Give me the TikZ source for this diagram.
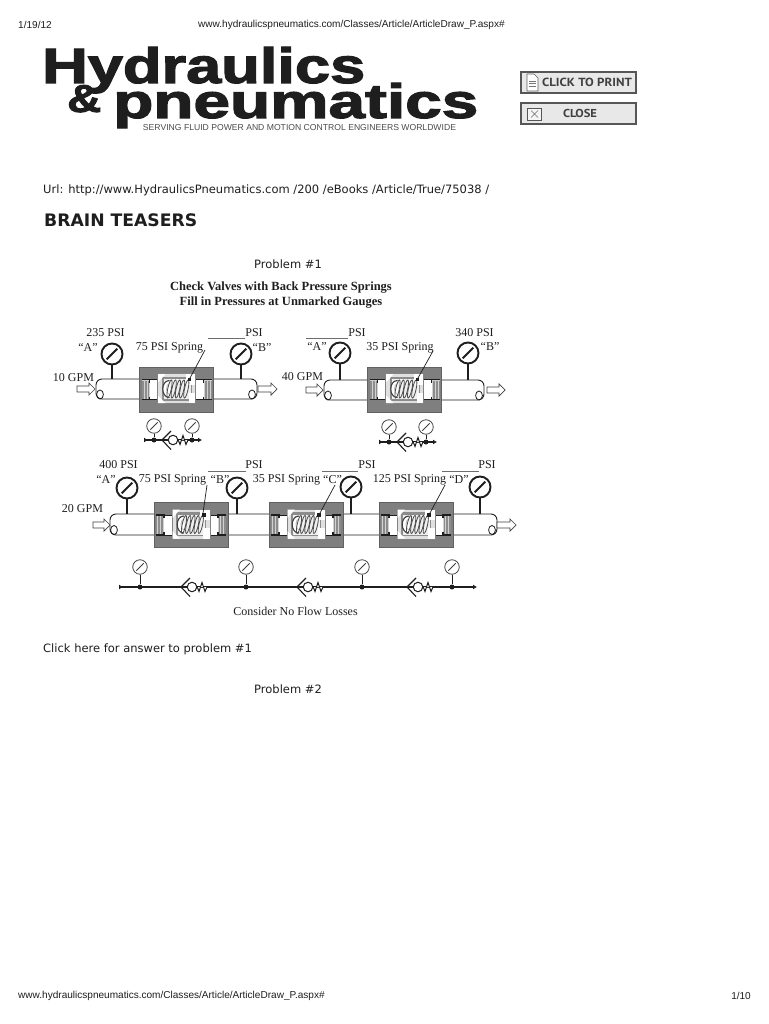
\documentclass[tikz,border=0pt]{standalone}
\usepackage{fontspec}
\usepackage{graphicx}
\setmainfont{Liberation Serif}
\newfontfamily\arialf{Liberation Sans}
\newfontfamily\verd{DejaVu Sans}
\newfontfamily\btnf{PT Sans}
\newfontfamily\logof[FakeBold=2.2]{Liberation Sans}
\usetikzlibrary{arrows.meta,calc}
\definecolor{ink}{HTML}{1E1E1E}
\definecolor{blockgray}{HTML}{7F7F7F}
\newcommand{\fs}[1]{\fontsize{#1}{#1}\selectfont}
\tikzset{
  x=1pt,y=-1pt,
  lbl/.style={inner sep=0pt,text=ink,font=\fs{12}},
  ttl/.style={inner sep=0pt,text=ink,font=\bfseries\fs{12.5}},
  hdr/.style={inner sep=0pt,text=ink,font=\arialf\fs{10.05},anchor=west},
  web/.style={inner sep=0pt,text=ink,font=\verd\fs{11.5},anchor=west},
  bigg/.style={circle,draw=ink,line width=1.9pt,fill=white,minimum size=21pt,inner sep=0pt},
  smallg/.style={circle,draw=ink!80,line width=.8pt,fill=white,minimum size=14.5pt,inner sep=0pt},
  needleb/.style={draw=ink,line width=1.9pt,shorten >=4pt,shorten <=4pt},
  needles/.style={draw=ink!85,line width=.8pt,shorten >=2.5pt,shorten <=2.5pt},
  pipe/.style={rectangle,draw=ink,line width=.9pt,rounded corners=6pt,fill=white,inner sep=0pt},
  stem/.style={draw=ink,line width=1.4pt},
  hollow/.style={draw=ink!85,line width=.7pt,fill=white},
  vblock/.style={rectangle,draw=ink!70,line width=.5pt,fill=blockgray,minimum width=74pt,minimum height=45pt,inner sep=0pt},
  blankln/.style={draw=ink!65,line width=.6pt},
  leaderln/.style={draw=ink,line width=.7pt},
  schem/.style={draw=ink,line width=1.1pt,{Latex[length=4pt,width=5pt,reversed]}-{Latex[length=4pt,width=5pt]}},
  junction/.style={circle,fill=ink,inner sep=0pt,minimum size=5pt},
  btn/.style={rectangle,draw=ink!75,line width=1.1pt,fill=black!9,minimum width=115pt,minimum height=21pt,inner sep=0pt},
  btntext/.style={inner sep=0pt,text=ink!85},
}
% hollow arrow: x from, x to, y
\newcommand{\hollowarrow}[3]{%
  \draw[hollow] (#1,#3-3) -- (#2-6,#3-3) -- (#2-6,#3-6) -- (#2,#3) -- (#2-6,#3+6) -- (#2-6,#3+3) -- (#1,#3+3) -- cycle;}
% valve block: name, cx, cy
\newcommand{\valveblock}[3]{%
  \node[vblock] (#1) at (#2,#3) {};
  \begin{scope}[shift={(#2,#3)}]
    \foreach \s in {-1,1}{
      \fill[white] (\s*27,-10) rectangle (\s*19,10);
      \fill[black!18] (\s*35,-10) rectangle (\s*27,10);
      \foreach \k in {0,1,2,3,4}{\draw[black!45,line width=.4pt] (\s*28.5+\s*\k*1.5,-9) -- (\s*28.5+\s*\k*1.5,9);}
      \draw[ink,line width=.9pt] (\s*35,-10) -- (\s*19,-10);
      \draw[ink,line width=.9pt] (\s*35,10) -- (\s*19,10);
      \draw[ink,line width=1.1pt] (\s*35,-10) -- (\s*27,-10) -- (\s*27,-7);
      \draw[ink,line width=1.1pt] (\s*35,10) -- (\s*27,10) -- (\s*27,7);
    }
    \fill[black!12] (-19,-16) rectangle (19,14);
    \draw[ink!55,line width=.5pt] (-19,-16) rectangle (19,14);
    \fill[black!45] (-15,-13) rectangle (15,11);
    \fill[black!6] (-13,-10.5) rectangle (14,9.5);
    \draw[ink!85,line width=1.1pt,fill=white] (-7,-9) .. controls (-16,-9) and (-16,8) .. (-7,8);
    \draw[black!25,line width=.9pt] (-7,-6) .. controls (-11,-6) and (-11,5) .. (-7,5);
    \fill[white] (9,-16) rectangle (19,-5);
    \fill[white] (12,3) rectangle (19,14);
    \foreach \c in {-7,-2.8,1.4,5.6,9.8}{
      \draw[ink!80,line width=.8pt,rotate around={-12:(\c,-0.5)}] (\c,-0.5) ellipse (1.8 and 9.2);
    }
    \draw[ink!55,line width=.5pt] (-19,-16) rectangle (19,14);
    \fill[ink] (11,-12) rectangle (14.5,-8.5);
    \fill[white] (-18.5,-15.5) -- (-11,-15.5) -- (-18.5,-7) -- cycle;
    \fill[white] (-18.5,13.5) -- (-11,13.5) -- (-18.5,6) -- cycle;
  \end{scope}}
% schematic check valve: name, x, y
\newcommand{\checkv}[3]{%
  \node[circle,draw=ink,line width=1pt,fill=white,minimum size=9.5pt,inner sep=0pt] (#1) at (#2+11,#3) {};
  \draw[ink,line width=1.1pt] (#2+9,#3-9) -- (#2,#3) -- (#2+9,#3+9.5);
  \draw[ink,line width=1pt,fill=white] (#1.east) -- (#2+18,#3+4.5) -- (#2+21,#3-4.5) -- (#2+24,#3+4.5) -- (#2+26,#3);}
\newcommand{\biggauge}[3]{%
  \node[bigg] (#1) at (#2,#3) {};
  \draw[needleb] (#1.225) -- (#1.45);}
\newcommand{\smallgauge}[3]{%
  \node[smallg] (#1) at (#2,#3) {};
  \draw[needles] (#1.225) -- (#1.45);}
\newcommand{\blankline}[4]{%
  \coordinate (#1a) at (#2,#4); \coordinate (#1b) at (#3,#4);
  \draw[blankln] (#1a) -- (#1b);}
\newcommand{\leaderline}[5]{%
  \coordinate (#1a) at (#2,#3); \coordinate (#1b) at (#4,#5);
  \draw[leaderln] (#1a) -- (#1b);}
\newcommand{\pipeends}[3]{%
  \draw[ink,line width=.8pt] (#1+4,#3+5.5) ellipse (3.4 and 4.5);
  \draw[ink,line width=.8pt] (#2-5,#3+5.5) ellipse (3.4 and 4.5);}
\begin{document}
\begin{tikzpicture}
\useasboundingbox (0,0) rectangle (768,1024);
\fill[white] (0,0) rectangle (768,1024);
% page header and footer
\node[hdr] (date) at (18,25) {1/19/12};
\node[hdr] (topurl) at (198,25) {www.hydraulicspneumatics.com/Classes/Article/ArticleDraw\_P.aspx\#};
\node[hdr] (boturl) at (18,996) {www.hydraulicspneumatics.com/Classes/Article/ArticleDraw\_P.aspx\#};
\node[hdr,anchor=east] (pageno) at (751,996) {1/10};
% logo
\node[anchor=base west,inner sep=0pt,text=ink] (logoa) at (42,83) {\resizebox{323pt}{36pt}{\logof\bfseries Hydraulics}};
\node[anchor=base west,inner sep=0pt,text=ink] (logob) at (113,118) {\resizebox{365pt}{35pt}{\logof\bfseries pneumatics}};
\node[anchor=base west,inner sep=0pt,text=ink] (logoc) at (67,112) {\resizebox{34pt}{27pt}{\logof\bfseries \&}};
\node[inner sep=0pt,text=ink!80] (logod) at (299.5,127.5) {\resizebox{313pt}{!}{\arialf SERVING FLUID POWER AND MOTION CONTROL ENGINEERS WORLDWIDE}};
% buttons
\node[btn] (printb) at (578.5,82.5) {};
\node[btntext] (printt) at (587,82.5) {\resizebox{90pt}{8.4pt}{\btnf\bfseries CLICK TO PRINT}};
\draw[ink!70,line width=.6pt,fill=white] (527,74) -- (534,74) -- (538,78) -- (538,91) -- (527,91) -- cycle;
\draw[ink!60,line width=.4pt] (529,81) -- (536,81) (529,83.5) -- (536,83.5) (529,86) -- (536,86);
\node[btn] (closeb) at (578.5,113.5) {};
\node[btntext] (closet) at (580,113.5) {\resizebox{34pt}{8.2pt}{\btnf\bfseries CLOSE}};
\draw[ink!75,line width=.7pt,fill=black!4] (527.5,108) rectangle (541.5,120);
\draw[ink!65,line width=.5pt] (531,110.5) -- (538,117.5) (538,110.5) -- (531,117.5);
% web text
\node[web] (urlline) at (43,190.5) {Url: http://www.HydraulicsPneumatics.com /200 /eBooks /Article/True/75038 /};
\node[web,font=\verd\bfseries\fs{17.2}] (brain) at (44,220.5) {BRAIN TEASERS};
\node[web] (p1) at (254,264.5) {Problem \#1};
\node[ttl] (t1) at (281,288) {Check Valves with Back Pressure Springs};
\node[ttl] (t2) at (281,302.5) {Fill in Pressures at Unmarked Gauges};
\node[web] (answer) at (43,649) {Click here for answer to problem \#1};
\node[web] (p2) at (254,689) {Problem \#2};
% circuit 1
\node[pipe,minimum width=161pt,minimum height=20pt] (pipeA) at (176.5,389) {};
\pipeends{96}{257}{389}
\valveblock{vA}{176.5}{389.5}
\biggauge{gA1}{112}{354}
\biggauge{gA2}{241}{354}
\draw[stem] (gA1.south) -- (gA1.south |- pipeA.north);
\draw[stem] (gA2.south) -- (gA2.south |- pipeA.north);
\hollowarrow{77}{95}{389}
\hollowarrow{258}{277}{389}
\node[lbl] (l1) at (105.5,332.5) {235 PSI};
\node[lbl] (l2) at (88,347.5) {“A”};
\node[lbl] (l3) at (169.5,347.5) {75 PSI Spring};
\node[lbl] (l4) at (254,332.5) {PSI};
\node[lbl] (l5) at (262,347.5) {“B”};
\node[lbl] (l6) at (73.5,377.5) {10 GPM};
\blankline{bA}{208}{245}{338}
\leaderline{lA}{205}{350}{190}{378}
% circuit 2
\node[pipe,minimum width=160pt,minimum height=20pt] (pipeB) at (404,390) {};
\pipeends{324}{484}{390}
\valveblock{vB}{404.5}{389.5}
\biggauge{gB1}{340}{353}
\biggauge{gB2}{468}{353}
\draw[stem] (gB1.south) -- (gB1.south |- pipeB.north);
\draw[stem] (gB2.south) -- (gB2.south |- pipeB.north);
\hollowarrow{306}{323}{390}
\hollowarrow{487}{505}{390}
\node[lbl] (m1) at (357,332.5) {PSI};
\node[lbl] (m2) at (317,346.5) {“A”};
\node[lbl] (m3) at (400,347.5) {35 PSI Spring};
\node[lbl] (m4) at (474.5,332.5) {340 PSI};
\node[lbl] (m5) at (490,346.5) {“B”};
\node[lbl] (m6) at (302.5,376.5) {40 GPM};
\blankline{bB}{306}{348}{338}
\leaderline{lB}{433}{351}{418}{378}
% circuit 3
\node[pipe,minimum width=387pt,minimum height=21pt] (pipeC) at (303.5,524.5) {};
\pipeends{110}{497}{524.5}
\valveblock{vC1}{191}{525}
\valveblock{vC2}{306}{525}
\valveblock{vC3}{416}{525}
\biggauge{gC1}{127}{488}
\biggauge{gC2}{237}{488}
\biggauge{gC3}{351}{487}
\biggauge{gC4}{480}{487}
\draw[stem] (gC1.south) -- (gC1.south |- pipeC.north);
\draw[stem] (gC2.south) -- (gC2.south |- pipeC.north);
\draw[stem] (gC3.south) -- (gC3.south |- pipeC.north);
\draw[stem] (gC4.south) -- (gC4.south |- pipeC.north);
\hollowarrow{93}{110}{525}
\hollowarrow{497}{516}{525}
\node[lbl] (n1) at (118.5,464.5) {400 PSI};
\node[lbl] (n2) at (106,479.5) {“A”};
\node[lbl] (n3) at (172.5,479.5) {75 PSI Spring};
\node[lbl] (n4) at (220,479.5) {“B”};
\node[lbl] (n5) at (254,464.5) {PSI};
\node[lbl] (n6) at (286.5,479.5) {35 PSI Spring};
\node[lbl] (n7) at (332.5,479.5) {“C”};
\node[lbl] (n8) at (367,464.5) {PSI};
\node[lbl] (n9) at (409.5,479.5) {125 PSI Spring};
\node[lbl] (n10) at (459,479.5) {“D”};
\node[lbl] (n11) at (487,464.5) {PSI};
\node[lbl] (n12) at (82.5,508.5) {20 GPM};
\blankline{bC1}{208}{246}{471}
\blankline{bC2}{322}{358}{471}
\blankline{bC3}{442}{479}{471}
\leaderline{lC1}{207}{485}{203}{513}
\leaderline{lC2}{335}{485}{320}{513}
\leaderline{lC3}{445}{485}{430}{513}
% schematic 1
\coordinate (sAa) at (144,440); \coordinate (sAb) at (202,440);
\draw[schem] (sAa) -- (sAb);
\node[junction] (jA1) at (154,440) {}; \node[junction] (jA2) at (192,440) {};
\smallgauge{sgA1}{154}{426} \smallgauge{sgA2}{192}{426}
\draw[ink,line width=.8pt] (sgA1.south) -- (jA1); \draw[ink,line width=.8pt] (sgA2.south) -- (jA2);
\checkv{cA}{162}{440}
% schematic 2
\coordinate (sBa) at (379,442); \coordinate (sBb) at (437,442);
\draw[schem] (sBa) -- (sBb);
\node[junction] (jB1) at (389,442) {}; \node[junction] (jB2) at (426,442) {};
\smallgauge{sgB1}{389}{427} \smallgauge{sgB2}{426}{427}
\draw[ink,line width=.8pt] (sgB1.south) -- (jB1); \draw[ink,line width=.8pt] (sgB2.south) -- (jB2);
\checkv{cB}{397}{442}
% schematic 3
\coordinate (sCa) at (119,587); \coordinate (sCb) at (477,587);
\draw[schem] (sCa) -- (sCb);
\node[junction] (jC1) at (140,587) {}; \node[junction] (jC2) at (246,587) {};
\node[junction] (jC3) at (362,587) {}; \node[junction] (jC4) at (452,587) {};
\smallgauge{sgC1}{140}{567} \smallgauge{sgC2}{246}{567} \smallgauge{sgC3}{362}{567} \smallgauge{sgC4}{452}{567}
\draw[ink,line width=.8pt] (sgC1.south) -- (jC1); \draw[ink,line width=.8pt] (sgC2.south) -- (jC2);
\draw[ink,line width=.8pt] (sgC3.south) -- (jC3); \draw[ink,line width=.8pt] (sgC4.south) -- (jC4);
\checkv{cC1}{181}{587} \checkv{cC2}{297}{587} \checkv{cC3}{407}{587}
\node[lbl] (cons) at (295.5,611.5) {Consider No Flow Losses};
\end{tikzpicture}
\end{document}
